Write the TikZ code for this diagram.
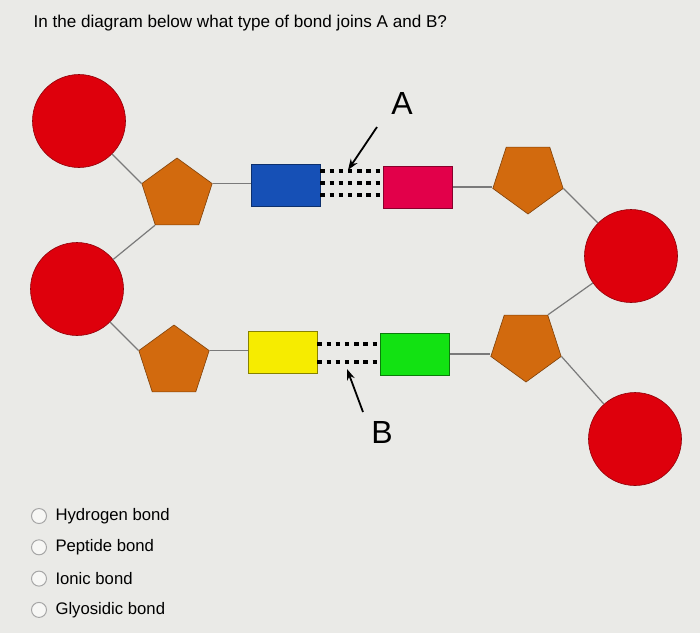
\documentclass[tikz,border=0pt]{standalone}
\usepackage{fontspec}
\setmainfont{Liberation Sans}
\usetikzlibrary{shapes.geometric,arrows.meta}
\definecolor{paper}{RGB}{234,234,231}
\definecolor{ballred}{RGB}{222,0,12}
\definecolor{pentorange}{RGB}{210,106,14}
\definecolor{baseblue}{RGB}{22,80,182}
\definecolor{basecrimson}{RGB}{226,0,74}
\definecolor{baseyellow}{RGB}{246,236,0}
\definecolor{basegreen}{RGB}{18,226,18}
\definecolor{stick}{RGB}{122,122,122}
\tikzset{
	ball/.style={circle,draw=ballred!65!black,line width=0.6pt,fill=ballred,minimum size=93pt,inner sep=0pt},
	pent/.style={regular polygon,regular polygon sides=5,draw=pentorange!60!black,line width=0.6pt,fill=pentorange,minimum size=74pt,inner sep=0pt},
	base/.style={rectangle,line width=0.6pt,minimum width=69pt,minimum height=42pt,inner sep=0pt},
	link/.style={draw=stick,line width=1.2pt},
	hbond/.style={line width=4.5pt,dash pattern=on 4.5pt off 4.7pt},
	pointer/.style={-{Stealth[length=11pt,width=8pt]},line width=1.8pt},
	bondlabel/.style={font=\fontsize{32}{36}\selectfont,inner sep=1pt},
	radio/.style={circle,draw=black!35,line width=1pt,fill=white!60!paper,minimum size=15pt,inner sep=0pt},
	choice/.style={anchor=west,font=\fontsize{16.7}{19}\selectfont}
}
\begin{document}
\begin{tikzpicture}[x=1pt,y=-1pt]
	\fill[paper] (0,0) rectangle (700,633);
	\useasboundingbox (0,0) rectangle (700,633);
	
	%QUESTION
	\node[anchor=west,font=\fontsize{17.1}{20}\selectfont] (question) at (30,23) {In the diagram below what type of bond joins A and B?};
	
	%CIRCLES
	\node[ball] (c1) at (79,121) {};
	\node[ball] (c2) at (77,289) {};
	\node[ball] (c3) at (631,256) {};
	\node[ball] (c4) at (635,439) {};
	
	%PENTAGONS
	\node[pent] (p1) at (177,195) {};
	\node[pent] (p2) at (174,362) {};
	\node[pent,rotate=180] (p3) at (528,177) {};
	\node[pent,rotate=180] (p4) at (526,345) {};
	
	%BASES
	\node[base,draw=baseblue!60!black,fill=baseblue] (blue) at (285.5,185) {};
	\node[base,draw=basecrimson!60!black,fill=basecrimson] (crimson) at (418,187) {};
	\node[base,draw=baseyellow!55!black,fill=baseyellow] (yellow) at (282.5,352) {};
	\node[base,draw=basegreen!55!black,fill=basegreen] (green) at (415,354) {};
	
	%BACKBONE
	\draw[link] (c1) -- (p1.corner 2);
	\draw[link] (p1.corner 5) -- (p1.corner 5 -| blue.west);
	\draw[link] (p1.corner 3) -- (c2);
	\draw[link] (c2) -- (p2.corner 2);
	\draw[link] (p2.corner 5) -- (p2.corner 5 -| yellow.west);
	%
	\draw[link] (crimson.east) -- (crimson.east -| p3.corner 5);
	\draw[link] (p3.corner 2) -- (c3);
	\draw[link] (c3) -- (p4.corner 3);
	\draw[link] (green.east) -- (green.east -| p4.corner 5);
	\draw[link] (p4.corner 2) -- (c4);
	
	%DOTTED BONDS
	\foreach \dy in {14,2,-10} \draw[hbond] ([yshift=\dy pt]blue.east) -- ([yshift=\dy pt]blue.east -| crimson.west);
	\foreach \dy in {8,-10} \draw[hbond] ([yshift=\dy pt]yellow.east) -- ([yshift=\dy pt]yellow.east -| green.west);
	
	%LABELS
	\node[bondlabel] (labA) at (402,103) {A};
	\coordinate (tailA) at (377,127);
	\coordinate (tipA) at (348,170);
	\draw[pointer] (tailA) -- (tipA);
	%
	\node[bondlabel] (labB) at (382,432) {B};
	\coordinate (tailB) at (363,412);
	\coordinate (tipB) at (347,369);
	\draw[pointer] (tailB) -- (tipB);
	
	%CHOICES
	\foreach \txt [count=\i] in {Hydrogen bond,Peptide bond,Ionic bond,Glyosidic bond} {
		\node[radio] (r\i) at (39,{516+31.3*(\i-1)}) {};
		\node[choice] (o\i) at (52,{516+31.3*(\i-1)}) {\txt};
	}
\end{tikzpicture}
\end{document}
